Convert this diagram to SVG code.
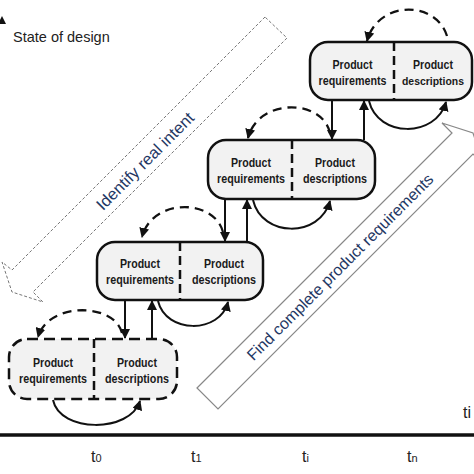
<svg xmlns="http://www.w3.org/2000/svg" width="474" height="474" viewBox="0 0 474 474">
<style>
.box{fill:#f2f2f2;stroke:#111;stroke-width:2.5}
.boxd{fill:#f2f2f2;stroke:#111;stroke-width:2.5;stroke-dasharray:11 6}
.div{stroke:#111;stroke-width:2.5;stroke-dasharray:9 5}
.nt{font-family:"Liberation Sans",Arial,sans-serif;font-weight:bold;font-size:13px;fill:#1a1a1a;text-anchor:middle}
.sol{fill:none;stroke:#111;stroke-width:2}
.dsh{fill:none;stroke:#111;stroke-width:2.3;stroke-dasharray:9 6}
.lbl{font-family:"Liberation Sans",Arial,sans-serif;font-size:16px;fill:#1f3864;text-anchor:middle}
.ax{font-family:"Liberation Sans",Arial,sans-serif;fill:#222}
</style>
<defs>
<marker id="ah" markerWidth="10" markerHeight="10" refX="9" refY="5" orient="auto" markerUnits="userSpaceOnUse">
<path d="M0,0 L10,5 L0,10 z" fill="#111"/>
</marker>
</defs>

<g id="axes">
<polygon points="-2,24 2,16 6,24" fill="#111"/>
<text class="ax" x="13" y="42" font-size="14.5">State of design</text>
<line x1="0" y1="435" x2="474" y2="435" stroke="#111" stroke-width="3.4"/>
<text class="ax" x="463" y="418" font-size="16">ti</text>
<text class="ax" x="91" y="462" font-size="16">t<tspan font-size="11">0</tspan></text>
<text class="ax" x="191" y="462" font-size="16">t<tspan font-size="11">1</tspan></text>
<text class="ax" x="302" y="462" font-size="16">t<tspan font-size="11">i</tspan></text>
<text class="ax" x="407" y="462" font-size="16">t<tspan font-size="11">n</tspan></text>
</g>

<g id="arrow-identify">
<path d="M265,17 L12,270 L2,262 L12,292 L43,302 L33,292 L287,38 Z" fill="none" stroke="#777" stroke-width="1" stroke-dasharray="3 2"/>
<text class="lbl" style="font-size:16.5px" transform="translate(145,161) rotate(-45)" y="5.8">Identify real intent</text>
</g>

<g id="arrow-find">
<path d="M197,388 L452,133 L442,123 L473,133 L483,164 L473,154 L218,409 Z" fill="none" stroke="#888" stroke-width="1.2"/>
<text class="lbl" transform="translate(340,267) rotate(-45)" y="5.6">Find complete product requirements</text>
</g>

<g id="node-t0">
<rect class="boxd" x="9" y="339" width="168" height="60" rx="18"/>
<line class="div" x1="94" y1="339" x2="94" y2="399"/>
<text class="nt" x="53" y="367" textLength="40" lengthAdjust="spacingAndGlyphs">Product</text>
<text class="nt" x="53" y="383" textLength="68" lengthAdjust="spacingAndGlyphs">requirements</text>
<text class="nt" x="137" y="367" textLength="40" lengthAdjust="spacingAndGlyphs">Product</text>
<text class="nt" x="137" y="383" textLength="64" lengthAdjust="spacingAndGlyphs">descriptions</text>
</g>

<g id="node-t1">
<rect class="box" x="97" y="242" width="166" height="58" rx="18"/>
<line class="div" x1="180" y1="242" x2="180" y2="300"/>
<text class="nt" x="140" y="268" textLength="40" lengthAdjust="spacingAndGlyphs">Product</text>
<text class="nt" x="140" y="284" textLength="68" lengthAdjust="spacingAndGlyphs">requirements</text>
<text class="nt" x="224" y="268" textLength="40" lengthAdjust="spacingAndGlyphs">Product</text>
<text class="nt" x="224" y="284" textLength="64" lengthAdjust="spacingAndGlyphs">descriptions</text>
</g>

<g id="node-ti">
<rect class="box" x="208" y="140" width="167" height="59" rx="18"/>
<line class="div" x1="292" y1="140" x2="292" y2="199"/>
<text class="nt" x="251" y="167" textLength="40" lengthAdjust="spacingAndGlyphs">Product</text>
<text class="nt" x="251" y="183" textLength="68" lengthAdjust="spacingAndGlyphs">requirements</text>
<text class="nt" x="335" y="167" textLength="40" lengthAdjust="spacingAndGlyphs">Product</text>
<text class="nt" x="335" y="183" textLength="64" lengthAdjust="spacingAndGlyphs">descriptions</text>
</g>

<g id="node-tn">
<rect class="box" x="310" y="42" width="162" height="58" rx="18"/>
<line class="div" x1="394" y1="42" x2="394" y2="100"/>
<text class="nt" x="352.5" y="69" textLength="40" lengthAdjust="spacingAndGlyphs">Product</text>
<text class="nt" x="352.5" y="85" textLength="68" lengthAdjust="spacingAndGlyphs">requirements</text>
<text class="nt" x="433" y="69" textLength="40" lengthAdjust="spacingAndGlyphs">Product</text>
<text class="nt" style="font-size:11px" x="433" y="85" textLength="62" lengthAdjust="spacingAndGlyphs">descriptions</text>
</g>

<g id="connectors">
<path class="sol" d="M53,400 C60,433 130,433 140,401" marker-end="url(#ah)"/>
<path class="sol" d="M158,301 C166,334 220,334 228,302" marker-end="url(#ah)"/>
<path class="sol" d="M253,200 C262,238 320,238 330,201" marker-end="url(#ah)"/>
<path class="sol" d="M369,101 C378,138 436,138 446,102" marker-end="url(#ah)"/>
<path class="dsh" d="M122,333 C114,302 48,302 38,337" marker-end="url(#ah)"/>
<path class="dsh" d="M223,232 C214,198 152,198 142,237" marker-end="url(#ah)"/>
<path class="dsh" d="M330,133 C322,98 258,98 248,138" marker-end="url(#ah)"/>
<path class="dsh" d="M447,36 C436,0 378,0 367,41" marker-end="url(#ah)"/>
<line class="sol" x1="125" y1="300" x2="125" y2="338" marker-end="url(#ah)"/>
<line class="sol" x1="152" y1="339" x2="152" y2="301" marker-end="url(#ah)"/>
<line class="sol" x1="225" y1="199" x2="225" y2="241" marker-end="url(#ah)"/>
<line class="sol" x1="247" y1="242" x2="247" y2="200" marker-end="url(#ah)"/>
<line class="sol" x1="332" y1="100" x2="332" y2="139" marker-end="url(#ah)"/>
<line class="sol" x1="364" y1="140" x2="364" y2="101" marker-end="url(#ah)"/>
</g>
</svg>
